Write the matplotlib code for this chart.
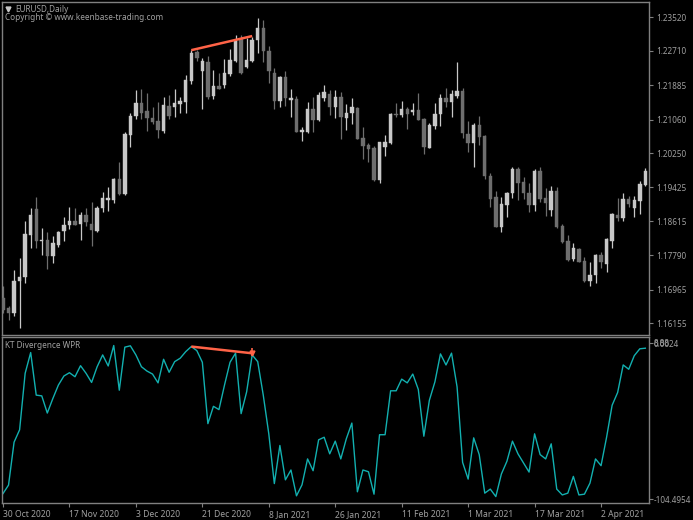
import numpy as np
import matplotlib
matplotlib.use("Agg")
import matplotlib.pyplot as plt
from matplotlib.transforms import ScaledTranslation

open_ = [1.1676,1.1652,1.1640,1.1717,1.1726,1.1828,1.1890,1.1813,1.1816,1.1777,1.1804,1.1837,1.1852,1.1861,1.1854,1.1876,1.1854,1.1837,1.1893,1.1912,
 1.1912,1.1963,1.1926,1.2069,1.2114,1.2146,1.2126,1.2110,1.2102,1.2078,1.2139,1.2136,1.2143,1.2148,1.2199,1.2269,1.2223,1.2245,1.2163,1.2187,
 1.2189,1.2216,1.2247,1.2300,1.2233,1.2247,1.2298,1.2327,1.2271,1.2218,1.2151,1.2208,1.2153,1.2155,1.2076,1.2076,1.2131,1.2105,1.2158,1.2167,
 1.2136,1.2160,1.2110,1.2122,1.2134,1.2061,1.2045,1.2037,1.1960,1.2040,1.2049,1.2119,1.2117,1.2131,1.2124,1.2129,1.2107,1.2037,1.2090,1.2119,
 1.2158,1.2148,1.2163,1.2175,1.2071,1.2049,1.2093,1.2066,1.1970,1.1919,1.1847,1.1900,1.1929,1.1987,1.1955,1.1929,1.1900,1.1982,1.1917,1.1888,
 1.1934,1.1849,1.1813,1.1770,1.1794,1.1765,1.1717,1.1731,1.1779,1.1758,1.1813,1.1876,1.1869,1.1914,1.1893,1.1910,1.1948]
high = [1.1705,1.1657,1.1743,1.1772,1.1861,1.1893,1.1919,1.1845,1.1835,1.1825,1.1837,1.1871,1.1895,1.1893,1.1883,1.1893,1.1907,1.1898,1.1931,1.1943,
 1.1965,1.2004,1.2076,1.2122,1.2177,1.2180,1.2170,1.2136,1.2148,1.2160,1.2165,1.2180,1.2160,1.2213,1.2273,1.2273,1.2254,1.2259,1.2225,1.2218,
 1.2252,1.2276,1.2310,1.2310,1.2302,1.2305,1.2351,1.2346,1.2283,1.2230,1.2211,1.2223,1.2180,1.2163,1.2088,1.2148,1.2160,1.2172,1.2189,1.2177,
 1.2177,1.2172,1.2143,1.2158,1.2136,1.2088,1.2049,1.2042,1.2052,1.2069,1.2122,1.2146,1.2151,1.2136,1.2146,1.2170,1.2110,1.2098,1.2146,1.2167,
 1.2182,1.2177,1.2245,1.2182,1.2102,1.2098,1.2114,1.2069,1.1977,1.1934,1.1919,1.1931,1.1992,1.1992,1.1967,1.1953,1.1987,1.1992,1.1941,1.1946,
 1.1943,1.1854,1.1828,1.1808,1.1796,1.1775,1.1763,1.1782,1.1787,1.1820,1.1881,1.1917,1.1929,1.1922,1.1922,1.1958,1.1989]
low = [1.1640,1.1623,1.1632,1.1604,1.1712,1.1796,1.1796,1.1779,1.1746,1.1760,1.1799,1.1813,1.1842,1.1852,1.1816,1.1849,1.1801,1.1835,1.1883,1.1885,
 1.1905,1.1924,1.1924,1.2040,1.2107,1.2107,1.2078,1.2095,1.2061,1.2073,1.2107,1.2112,1.2122,1.2122,1.2192,1.2247,1.2131,1.2155,1.2155,1.2180,
 1.2182,1.2211,1.2245,1.2216,1.2230,1.2245,1.2266,1.2245,1.2194,1.2131,1.2136,1.2139,1.2112,1.2076,1.2054,1.2073,1.2076,1.2102,1.2151,1.2117,
 1.2110,1.2059,1.2081,1.2095,1.2059,1.2011,1.2004,1.1958,1.1953,1.2018,1.2047,1.2112,1.2112,1.2083,1.2117,1.2105,1.2023,1.2037,1.2083,1.2090,
 1.2136,1.2112,1.2158,1.2061,1.2028,1.1992,1.2045,1.1963,1.1895,1.1847,1.1835,1.1871,1.1917,1.1912,1.1914,1.1883,1.1885,1.1907,1.1873,1.1873,
 1.1845,1.1808,1.1765,1.1765,1.1763,1.1714,1.1705,1.1712,1.1748,1.1738,1.1796,1.1861,1.1861,1.1895,1.1871,1.1878,1.1946]
close = [1.1647,1.1640,1.1717,1.1726,1.1830,1.1876,1.1813,1.1816,1.1777,1.1808,1.1835,1.1852,1.1861,1.1852,1.1876,1.1859,1.1840,1.1893,1.1917,1.1917,
 1.1963,1.1926,1.2071,1.2114,1.2146,1.2122,1.2110,1.2100,1.2081,1.2141,1.2114,1.2146,1.2151,1.2201,1.2266,1.2254,1.2247,1.2160,1.2187,1.2180,
 1.2218,1.2249,1.2295,1.2218,1.2249,1.2298,1.2327,1.2271,1.2223,1.2151,1.2208,1.2158,1.2158,1.2076,1.2081,1.2131,1.2105,1.2165,1.2172,1.2136,
 1.2160,1.2112,1.2122,1.2136,1.2059,1.2042,1.2035,1.1960,1.2052,1.2052,1.2119,1.2117,1.2131,1.2119,1.2129,1.2105,1.2040,1.2093,1.2119,1.2158,
 1.2148,1.2167,1.2175,1.2073,1.2049,1.2093,1.2064,1.1970,1.1914,1.1847,1.1902,1.1929,1.1987,1.1953,1.1929,1.1900,1.1982,1.1914,1.1905,1.1934,
 1.1847,1.1811,1.1767,1.1796,1.1763,1.1717,1.1731,1.1779,1.1763,1.1818,1.1878,1.1869,1.1914,1.1902,1.1912,1.1951,1.1982]

wpr = [-100.7,-95.0,-66.3,-58.0,-20.2,-6.3,-34.8,-35.3,-46.8,-37.1,-28.1,-22.0,-19.8,-22.5,-15.1,-20.2,-26.3,-15.8,-7.9,-15.3,
 -1.6,-31.5,-2.7,-1.8,-7.9,-15.8,-18.7,-20.7,-26.6,-10.8,-19.5,-12.4,-10.1,-5.7,-2.3,-5.0,-12.8,-53.9,-42.3,-44.5,
 -28.1,-12.8,-6.7,-47.2,-32.6,-7.9,-12.4,-34.8,-60.7,-94.0,-68.5,-91.5,-84.9,-102.2,-94.8,-77.5,-85.4,-64.7,-63.0,-74.1,
 -65.6,-77.5,-64.0,-53.5,-99.5,-84.9,-86.1,-101.1,-61.3,-61.3,-31.9,-31.9,-24.1,-26.6,-20.7,-31.0,-62.3,-38.2,-25.9,-7.2,
 -14.6,-6.7,-29.3,-79.8,-91.0,-63.4,-74.6,-100.4,-97.7,-102.7,-87.6,-79.1,-65.6,-74.1,-80.2,-86.3,-60.7,-74.6,-77.5,-67.4,
 -97.7,-101.6,-100.4,-89.2,-101.6,-101.1,-93.7,-77.5,-82.0,-63.0,-41.6,-33.0,-14.6,-17.5,-8.4,-3.8,-3.4]

date_labels = ["30 Oct 2020","17 Nov 2020","3 Dec 2020","21 Dec 2020","8 Jan 2021","26 Jan 2021",
               "11 Feb 2021","1 Mar 2021","17 Mar 2021","2 Apr 2021"]
date_index = [0,12,24,36,48,60,72,84,96,108]
price_ticks = [1.23520,1.22710,1.21885,1.21060,1.20250,1.19425,1.18615,1.17790,1.16965,1.16155]

div_bars = [34,45]
div_price = [1.2273,1.2307]
div_wpr = [-2.3,-6.8]

W, H = 693, 520
BG = "#000000"; FRAME = "#808080"; TXT = "#a0a0a0"
UP = "#c8c8c8"; DOWN = "#6e6e6e"; RED = "#ff6347"; LINE = "#12b0b0"
plt.rcParams["font.family"] = ["Noto Sans", "DejaVu Sans"]
FS_HEAD = 5.9; FS_X = 6.15; FS_Y = 5.85

fig = plt.figure(figsize=(W/100, H/100), dpi=100, facecolor=BG)
def mk(top, bottom):
    return fig.add_axes([2/W, 1-bottom/H, (649-2)/W, (bottom-top)/H], facecolor=BG)
ax = mk(2, 335)
sub = mk(337, 503)

x = np.arange(len(close))
o, h, l, c = map(np.array, (open_, high, low, close))
up = c >= o
for mask, col in ((up, UP), (~up, DOWN)):
    ax.vlines(x[mask], l[mask], h[mask], color=col, lw=0.9, zorder=2)
    ax.bar(x[mask], np.maximum(np.abs(c-o)[mask], 0.0003), bottom=np.minimum(o, c)[mask],
           width=0.62, color=col, edgecolor=col, lw=0.3, zorder=3)
ax.plot(div_bars, div_price, color=RED, lw=1.8, zorder=4, solid_capstyle="butt")

xlim = (-0.18, 116.66)
ax.set_xlim(xlim); sub.set_xlim(xlim)
ax.set_ylim(1.1587, 1.2389)
sub.set_ylim(-107.0, 4.1)

sub.plot(x, wpr, color=LINE, lw=1.0, zorder=2)
sub.plot(div_bars, div_wpr, color=RED, lw=1.8, zorder=4, solid_capstyle="butt")
sub.plot([div_bars[1]], [div_wpr[1]], marker="v", ms=3.5, color=RED, zorder=5)
sub.vlines(div_bars[1], div_wpr[1]-1.8, div_wpr[1]+3.6, color=RED, lw=1.2, zorder=5)

for a in (ax, sub):
    for s in a.spines.values():
        s.set_color(FRAME); s.set_linewidth(1.0)
    a.tick_params(colors=TXT, color=FRAME, length=3, width=0.8, pad=2)
    a.yaxis.tick_right()
    a.tick_params(axis="y", labelsize=FS_Y)
ax.set_xticks([])
ax.set_yticks(price_ticks)
ax.set_yticklabels([f"{v:.5f}" for v in price_ticks])
sub.set_yticks([0.0, -104.4954])
sub.set_yticklabels(["0.0024", "-104.4954"])
shift = ScaledTranslation(-2.2/100, 0, fig.dpi_scale_trans)
for lab in sub.get_yticklabels():
    lab.set_transform(lab.get_transform() + shift)
sub.annotate("8.88", xy=(1.0, 0.0), xycoords=sub.get_yaxis_transform(), xytext=(3, 0),
             textcoords="offset points", color=TXT, fontsize=FS_Y, va="center", ha="left")
sub.set_xticks(date_index)
sub.set_xticklabels(date_labels, ha="left")
sub.tick_params(axis="x", pad=2, labelsize=FS_X)

fig.text(15/W, 1-9/H, "EURUSD,Daily", color=TXT, fontsize=FS_HEAD, va="center")
fig.text(5/W, 1-18/H, "Copyright © www.keenbase-trading.com", color=TXT, fontsize=FS_HEAD, va="center")
fig.text(5/W, 1-345/H, "KT Divergence WPR", color=TXT, fontsize=FS_HEAD, va="center")
ax.plot([7.5/W], [1-8.5/H], marker="v", ms=3.5, color="#c8c8c8", transform=fig.transFigure, clip_on=False, zorder=6)

fig.savefig("out.png", dpi=100, facecolor=BG)
